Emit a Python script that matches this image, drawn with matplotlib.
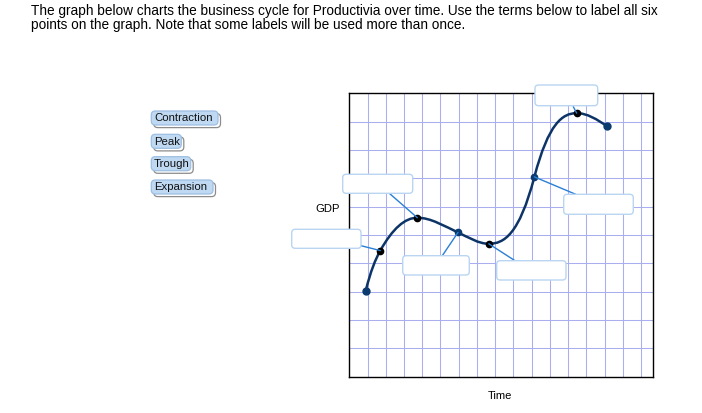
import matplotlib
matplotlib.use("Agg")
import matplotlib.pyplot as plt
from matplotlib.path import Path
from matplotlib.patches import PathPatch, FancyBboxPatch, ConnectionPatch

plt.rcParams['font.family'] = ['Liberation Sans', 'DejaVu Sans']

# business cycle points (time in grid units, GDP in grid units)
times = [0.90, 1.70, 3.73, 5.96, 7.65, 10.15, 12.47, 14.15]
gdp = [3.03, 4.45, 5.61, 5.09, 4.69, 7.05, 9.30, 8.83]
# slope of the curve at each point
slopes = [2.6, 1.15, 0.0, -0.3, 0.0, 2.45, 0.0, -0.45]
dot_colors = ['#0b3a6e', 'black', 'black', '#0b3a6e', 'black', '#0b3a6e', 'black', '#0b3a6e']

# which point each empty label box points to
label_points = [1, 2, 3, 4, 5, 6]

terms = ['Contraction', 'Peak', 'Trough', 'Expansion']

title1 = ("The graph below charts the business cycle for Productivia over time. "
          "Use the terms below to label all six")
title2 = "points on the graph. Note that some labels will be used more than once."

W, H = 702, 413
fig = plt.figure(figsize=(W / 100, H / 100), dpi=100)
ax = fig.add_axes([349.3 / W, 1 - 376.7 / H, 303.4 / W, 283.4 / H])
ax.set_xlim(0, 16.64)
ax.set_ylim(0, 10)
ax.set_xticks(range(1, 17))
ax.set_yticks(range(1, 10))
ax.tick_params(length=0, labelbottom=False, labelleft=False)
ax.grid(True, color='#a9aef0', lw=0.75)
for s in ax.spines.values():
    s.set_color('black')
    s.set_linewidth(1.0)


def px(x, y):
    # figure pixel (from top-left) -> inches
    return (x / 100, (H - y) / 100)


# smooth curve through the points (cubic bezier segments)
verts = [(times[0], gdp[0])]
codes = [Path.MOVETO]
for i in range(len(times) - 1):
    h = times[i + 1] - times[i]
    verts += [(times[i] + h / 3, gdp[i] + h * slopes[i] / 3),
              (times[i + 1] - h / 3, gdp[i + 1] - h * slopes[i + 1] / 3),
              (times[i + 1], gdp[i + 1])]
    codes += [Path.CURVE4] * 3
ax.add_patch(PathPatch(Path(verts, codes), fc='none', ec='#0d3466', lw=1.8, zorder=3))
for i in range(len(times)):
    ms = 5 if i in (0, len(times) - 1) else 4.5
    ax.plot(times[i], gdp[i], 'o', color=dot_colors[i], ms=ms, zorder=4)

# empty label boxes and their connectors
boxes = [(291.7, 229.3, 69.3, 19.0), (342.7, 174.3, 70.0, 19.0),
         (402.7, 255.7, 66.6, 19.3), (496.7, 260.7, 69.3, 19.3),
         (563.7, 194.3, 69.6, 20.0), (535.0, 85.0, 62.7, 20.7)]
anchors = [(361, 245.7), (389.3, 193.3), (442.3, 255.7),
           (515, 260.7), (575.7, 194.3), (573.3, 106.7)]
for (bx, by, bw, bh), (axx, ayy), k in zip(boxes, anchors, label_points):
    con = ConnectionPatch(xyA=px(axx, ayy), coordsA=fig.dpi_scale_trans,
                          xyB=(times[k], gdp[k]), coordsB=ax.transData,
                          color='#2a7fd4', lw=1.0, zorder=2)
    fig.add_artist(con)
    fig.add_artist(FancyBboxPatch(px(bx, by + bh), bw / 100, bh / 100,
                                  boxstyle='round,pad=0,rounding_size=0.035',
                                  transform=fig.dpi_scale_trans,
                                  fc='white', ec='#b9d5f2', lw=1.0, zorder=5))

# term buttons
btn_tops = [111, 134.3, 156.7, 180]
btn_widths = [66.7, 30.0, 39.4, 61.7]
for t, top, bw in zip(terms, btn_tops, btn_widths):
    bh = 14
    fig.add_artist(FancyBboxPatch(px(153.8, top + bh + 2.6), bw / 100, bh / 100,
                                  boxstyle='round,pad=0,rounding_size=0.04',
                                  transform=fig.dpi_scale_trans,
                                  fc='white', ec='#8c8c8c', lw=0.9))
    fig.add_artist(FancyBboxPatch(px(151.3, top + bh), bw / 100, bh / 100,
                                  boxstyle='round,pad=0,rounding_size=0.04',
                                  transform=fig.dpi_scale_trans,
                                  fc='#bfd9f2', ec='#9dbfe3', lw=0.9))
    fig.text(*px(154, top + 7.3), t, transform=fig.dpi_scale_trans,
             fontsize=8.2, va='center', ha='left', color='#111111')

fig.text(*px(31, 15.5), title1, transform=fig.dpi_scale_trans,
         fontsize=9.8, va='baseline', ha='left')
fig.text(*px(31, 29), title2, transform=fig.dpi_scale_trans,
         fontsize=9.8, va='baseline', ha='left')

fig.text(*px(327.8, 208.5), 'GDP', transform=fig.dpi_scale_trans,
         fontsize=8.1, va='center', ha='center')
fig.text(*px(499.5, 396), 'Time', transform=fig.dpi_scale_trans,
         fontsize=8.0, va='center', ha='center')

fig.savefig('out.png', dpi=100)
